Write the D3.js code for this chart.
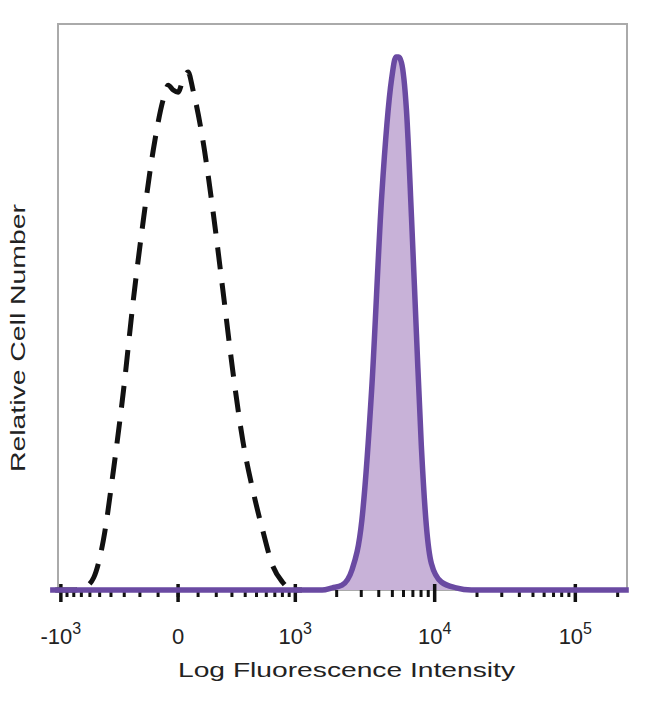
<!DOCTYPE html>
<html><head><meta charset="utf-8">
<script src="https://cdn.jsdelivr.net/npm/d3@7"></script>
<style>body{margin:0;background:#fff}text{font-family:"Liberation Sans",Arial,sans-serif}</style>
</head><body><div id="chart"></div>
<script>
// isotype control (dashed) and stained sample (purple), intensity vs relative count
const isoX = [-1100,-918,-800,-670,-560,-465,-380,-305,-240,-180,-125,-74,-49,-24,0,24,49,74,125,180,240,305,380,465,560,670,800,950,1120];
const isoY = [0,0,0,0.4,2.3,9.4,22.5,37.5,54.4,69.4,82.6,92,94.7,93.8,93.4,95.7,97.2,93.8,84.4,71.3,56.3,41.3,28.1,18.8,11.3,4.7,1.5,0,0];
const stainX = [-1200,1570,1860,2184,2577,3030,3567,4200,4944,5300,5540,5800,6300,6840,7420,8040,8730,9470,11150,14200,18200,240000];
const stainY = [0,0,0.4,0.9,3.8,13.1,38,74,96,100,100,99,90,70,48,27,12,5,1.5,0.4,0,0];
const tickVals = [-1000,0,1000,10000,100000];
const tickLabels = [["-10","3"],["0",""],["10","3"],["10","4"],["10","5"]];

const W = 650, H = 704;
const m = {left:58, right:23, top:24, bottom:114};
const w0 = 300;
const f = v => Math.asinh(v / w0);
const x = d3.scaleLinear().domain([f(-1050), f(233000)]).range([m.left, W - m.right]);
const X = v => x(f(v));
const y = d3.scaleLinear().domain([0, 100]).range([H - m.bottom, 57]);

const svg = d3.select("#chart").append("svg").attr("width", W).attr("height", H);

svg.append("rect").attr("x", m.left).attr("y", m.top)
  .attr("width", W - m.left - m.right).attr("height", H - m.top - m.bottom)
  .attr("fill", "none").attr("stroke", "#aaa").attr("stroke-width", 2);

const line = d3.line().x(d => X(d[0])).y(d => y(d[1])).curve(d3.curveMonotoneX);
const area = d3.area().x(d => X(d[0])).y0(y(0)).y1(d => y(d[1])).curve(d3.curveMonotoneX);
const stain = d3.zip(stainX, stainY);
const iso = d3.zip(isoX, isoY);

svg.append("path").datum(stain).attr("d", area).attr("fill", "#c8b2d8");

// minor ticks
const minor = [];
for (let v = -900; v <= 900; v += 100) minor.push(v);
[1000, 10000, 100000].forEach(d => { for (let k = 2; k <= 9; k++) if (d * k < 233000) minor.push(d * k); });
const base = y(0);
svg.append("g").selectAll("line").data(minor).join("line")
  .attr("x1", X).attr("x2", X).attr("y1", base).attr("y2", base + 7)
  .attr("stroke", "#111").attr("stroke-width", 3);
svg.append("g").selectAll("line").data(tickVals).join("line")
  .attr("x1", X).attr("x2", X).attr("y1", base - 6).attr("y2", base + 12)
  .attr("stroke", "#111").attr("stroke-width", 3.5);

svg.append("path").datum(iso).attr("d", line).attr("fill", "none")
  .attr("stroke", "#111").attr("stroke-width", 5).attr("stroke-dasharray", "22,14");
svg.append("path").datum(stain).attr("d", line).attr("fill", "none")
  .attr("stroke", "#6a4aa2").attr("stroke-width", 5.5).attr("stroke-linejoin", "round");

const tl = svg.append("g").selectAll("text").data(tickVals).join("text")
  .attr("x", X).attr("y", 644).attr("text-anchor", "middle")
  .attr("font-size", 22).attr("fill", "#222");
tl.append("tspan").text((d, i) => tickLabels[i][0]);
tl.append("tspan").attr("dy", -10).attr("font-size", 16).text((d, i) => tickLabels[i][1]);

svg.append("text").attr("x", 178).attr("y", 677)
  .attr("font-size", 21).attr("fill", "#222")
  .attr("textLength", 337).attr("lengthAdjust", "spacingAndGlyphs")
  .text("Log Fluorescence Intensity");
svg.append("text").attr("transform", "translate(25,338) rotate(-90)")
  .attr("text-anchor", "middle").attr("font-size", 21).attr("fill", "#222")
  .attr("textLength", 268).attr("lengthAdjust", "spacingAndGlyphs")
  .text("Relative Cell Number");
</script></body></html>
